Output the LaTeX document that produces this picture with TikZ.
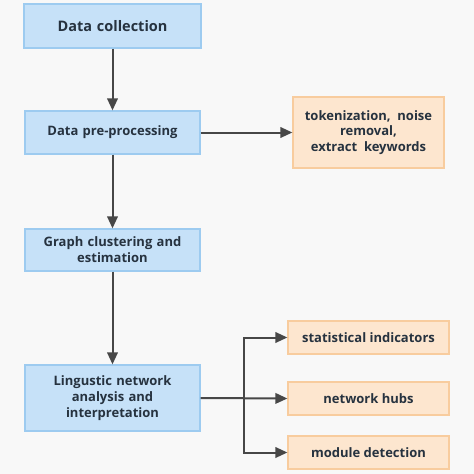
\documentclass[tikz,border=0pt]{standalone}
\usepackage{fontspec}
\setmainfont{Open Sans}
\usetikzlibrary{arrows.meta}

\definecolor{bgcol}{HTML}{F8F8F8}
\definecolor{bluefill}{HTML}{C6E1F8}
\definecolor{blueline}{HTML}{9DCBF0}
\definecolor{orangefill}{HTML}{FDE6CF}
\definecolor{orangeline}{HTML}{F8CC9E}
\definecolor{txtcol}{HTML}{26323F}
\definecolor{arrcol}{HTML}{474747}

\begin{document}
\begin{tikzpicture}[x=1pt, y=-1pt,
  stepbox/.style={draw=blueline, fill=bluefill, line width=1.2pt,
    minimum width=175pt, text width=170pt, align=center, inner sep=0pt,
    font=\fontsize{13}{16}\selectfont\bfseries, text=txtcol},
  notebox/.style={draw=orangeline, fill=orangefill, line width=1.2pt,
    minimum width=161pt, minimum height=33pt, align=center, inner sep=0pt,
    font=\fontsize{13}{15.5}\selectfont\bfseries, text=txtcol},
  arr/.style={draw=arrcol, line width=2pt,
    -{Triangle[length=12pt,width=10.5pt]}}]
\fill[bgcol] (0,0) rectangle (474,474);

% main column
\node[stepbox, minimum width=177pt, minimum height=44pt,
      font=\fontsize{14.5}{16}\selectfont\bfseries] (collect) at (112.5,26) {Data collection};
\node[stepbox, minimum height=43pt] (prep) at (112.5,132.5) {Data pre-processing};
\node[stepbox, minimum height=42pt] (clust) at (112.5,250) {Graph clustering and\\estimation};
\node[stepbox, minimum height=66pt] (ling) at (112.5,398) {Lingustic network\\analysis and\\interpretation};

%%%%%%%%%%%%%%%%%%%%%%%%%%%%%%%%%%%%%%%%

% side boxes
\node[notebox, minimum width=151pt, minimum height=71pt] (tok) at (368.5,132.5)
     {tokenization,\ \ noise\\removal,\\extract\ \ keywords};
\node[notebox] (stat)  at (368.5,337.5) {statistical indicators};
\node[notebox] (hubs)  at (368.5,398.5) {network hubs};
\node[notebox] (modul) at (368.5,452.5) {module detection};

\draw[arr] (collect) -- (prep);
\draw[arr] (prep) -- (clust);
\draw[arr] (clust) -- (ling);
\draw[arr] (prep) -- (tok);

\path (244, 398) coordinate (split);
\draw[arr] (ling.east) -- (hubs.west);
\draw[arr] (split) |- (stat.west);
\draw[arr] (split) |- (modul.west);
\end{tikzpicture}
\end{document}
